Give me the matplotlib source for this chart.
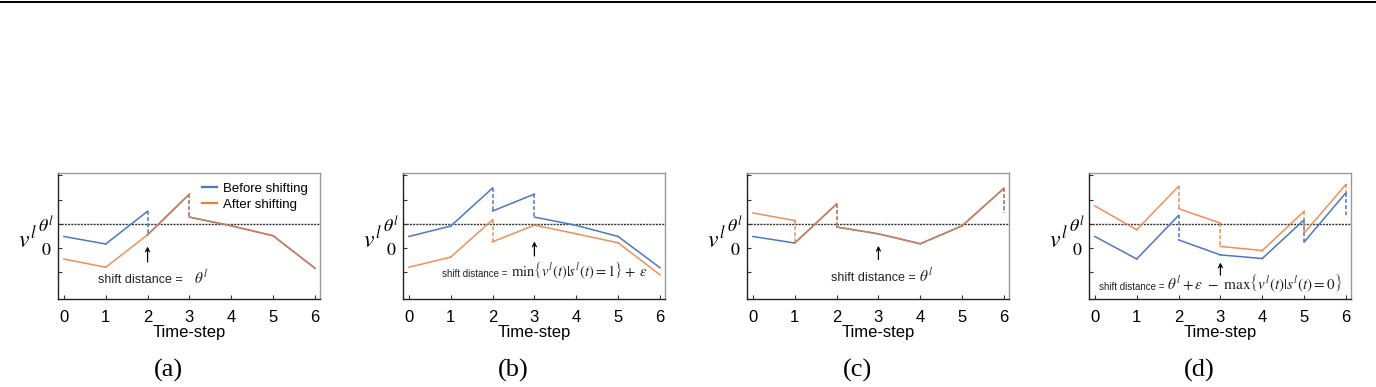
import matplotlib
matplotlib.use("Agg")
import matplotlib.pyplot as plt
from matplotlib.lines import Line2D

plt.rcParams['font.family'] = ['Liberation Sans', 'DejaVu Sans']
plt.rcParams['mathtext.fontset'] = 'stix'

# membrane potential traces, repeated time-step = reset (dashed drop)
a_blue_t = [0, 1, 2, 2, 3, 3, 4, 5, 6]
a_blue_v = [0.48, 0.17, 1.52, 0.55, 2.23, 1.28, 0.92, 0.51, -0.83]
a_orange_t = [0, 1, 2, 3, 3, 4, 5, 6]
a_orange_v = [-0.45, -0.79, 0.55, 2.23, 1.28, 0.92, 0.51, -0.83]

b_blue_t = [0, 1, 2, 2, 3, 3, 4, 5, 6]
b_blue_v = [0.48, 0.91, 2.48, 1.53, 2.23, 1.28, 0.94, 0.48, -0.81]
b_orange_t = [0, 1, 2, 2, 3, 4, 5, 6]
b_orange_v = [-0.79, -0.37, 1.17, 0.26, 0.95, 0.59, 0.22, -1.10]

c_blue_t = [0, 1, 2, 2, 3, 4, 5, 6, 6]
c_blue_v = [0.48, 0.21, 1.82, 0.87, 0.59, 0.18, 0.92, 2.47, 1.45]
c_orange_t = [0, 1, 1, 2, 2, 3, 4, 5, 6, 6]
c_orange_v = [1.45, 1.14, 0.21, 1.82, 0.87, 0.59, 0.18, 0.92, 2.47, 1.45]

d_blue_t = [0, 1, 2, 2, 3, 4, 5, 5, 6, 6]
d_blue_v = [0.48, -0.45, 1.35, 0.34, -0.28, -0.43, 1.17, 0.25, 2.29, 1.28]
d_orange_t = [0, 1, 2, 2, 3, 3, 4, 5, 5, 6, 6]
d_orange_v = [1.74, 0.76, 2.55, 1.63, 1.03, 0.07, -0.10, 1.52, 0.62, 2.63, 2.30]

threshold = 1.0
xticks = [0, 1, 2, 3, 4, 5, 6]
yticks = [-1, 0, 1, 2, 3]
ytick_labels = ['', r'$0$', r'$\theta^l$', '', '']
captions = ['(a)', '(b)', '(c)', '(d)']

# annotation arrows and text (data coords)
arrow_x = [2, 3, 3, 3]
arrow_from = [-0.68, -0.44, -0.58, -1.23]
arrow_to = [0.18, 0.39, 0.21, -0.48]
note_base = [-1.42, -1.18, -1.35, -1.72]
note_split = [2.84, 2.36, 3.88, 1.66]
note_sans = ['shift distance =', 'shift distance =', 'shift distance =', 'shift distance =']
note_math = [r'$\theta^l$',
             r'$\mathrm{min}\left\{v^l(t)|s^l(t)=1\right\}+\ \epsilon$',
             r'$\theta^l$',
             r'$\theta^l+\epsilon\ -\ \mathrm{max}\left\{v^l(t)|s^l(t)=0\right\}$']
note_fs = [9, 7, 9, 7]
note_mfs = [11, 10.5, 11, 11]
note_gap = [0.26, 0.08, 0.08, 0.06]

BLUE = '#4a78c2'
ORANGE = '#e97e3c'

W, H = 1376, 387
fig = plt.figure(figsize=(W / 100, H / 100), dpi=100)
fig.add_artist(Line2D([0, 1], [1 - 2 / H, 1 - 2 / H], color='black', lw=1.4))

lefts = [58, 403, 747, 1089]
series = [
    (a_blue_t, a_blue_v, a_orange_t, a_orange_v),
    (b_blue_t, b_blue_v, b_orange_t, b_orange_v),
    (c_blue_t, c_blue_v, c_orange_t, c_orange_v),
    (d_blue_t, d_blue_v, d_orange_t, d_orange_v),
]


def draw_trace(ax, ts, vs, color, alpha):
    for i in range(len(ts) - 1):
        if ts[i] == ts[i + 1]:
            ax.plot(ts[i:i + 2], vs[i:i + 2], color=color, lw=1.1, ls='--',
                    dashes=(2.5, 1.5), alpha=alpha)
        else:
            ax.plot(ts[i:i + 2], vs[i:i + 2], color=color, lw=1.1, alpha=alpha)


for k in range(4):
    ax = fig.add_axes([lefts[k] / W, (H - 299) / H, 262 / W, 126 / H])
    bt, bv, ot, ov = series[k]
    ax.axhline(threshold, color='#333333', lw=1.0, ls=(0, (1.5, 0.8)))
    draw_trace(ax, bt, bv, BLUE, 1.0)
    draw_trace(ax, ot, ov, ORANGE, 0.85)

    ax.set_xlim(-0.14, 6.12)
    ax.set_ylim(-2.1, 3.1)
    ax.set_xticks(xticks)
    ax.set_yticks(yticks)
    ax.set_yticklabels(ytick_labels, fontsize=13)
    for lab in ax.get_yticklabels():
        lab.set_ha('center')
    ax.tick_params(axis='both', direction='in', length=3, width=0.8, color='#333333')
    ax.tick_params(axis='x', labelsize=12, pad=8)
    ax.tick_params(axis='y', pad=8.5)
    for s in ['left', 'bottom']:
        ax.spines[s].set_color('#222222')
        ax.spines[s].set_linewidth(1.0)
    for s in ['top', 'right']:
        ax.spines[s].set_color('#999999')
        ax.spines[s].set_linewidth(1.0)

    ax.set_xlabel('Time-step', fontsize=12, labelpad=0)
    ax.set_ylabel(r'$v^l$', fontsize=17, rotation=0, ha='center', va='center')
    ax.yaxis.set_label_coords(-0.118, 0.47)

    ax.annotate('', xy=(arrow_x[k], arrow_to[k]), xytext=(arrow_x[k], arrow_from[k]),
                arrowprops=dict(arrowstyle='->', lw=0.9, color='black',
                                mutation_scale=7))
    ax.text(note_split[k], note_base[k], note_sans[k], fontsize=note_fs[k],
            ha='right', va='baseline', color='#222222')
    ax.text(note_split[k] + note_gap[k], note_base[k], note_math[k], fontsize=note_mfs[k],
            ha='left', va='baseline', color='#222222')

    cx = (lefts[k] + 131 - 21) / W
    fig.text(cx, 1 - 370 / H, captions[k], fontsize=19, family='Liberation Serif',
             ha='center', va='center')

    if k == 0:
        handles = [Line2D([], [], color=BLUE, lw=1.6), Line2D([], [], color=ORANGE, lw=1.6)]
        ax.legend(handles, ['Before shifting', 'After shifting'], loc='upper right',
                  bbox_to_anchor=(1.0, 1.02), frameon=False, fontsize=9.5,
                  handlelength=1.1, handletextpad=0.5, labelspacing=0.3)

fig.savefig('out.png', dpi=100)
